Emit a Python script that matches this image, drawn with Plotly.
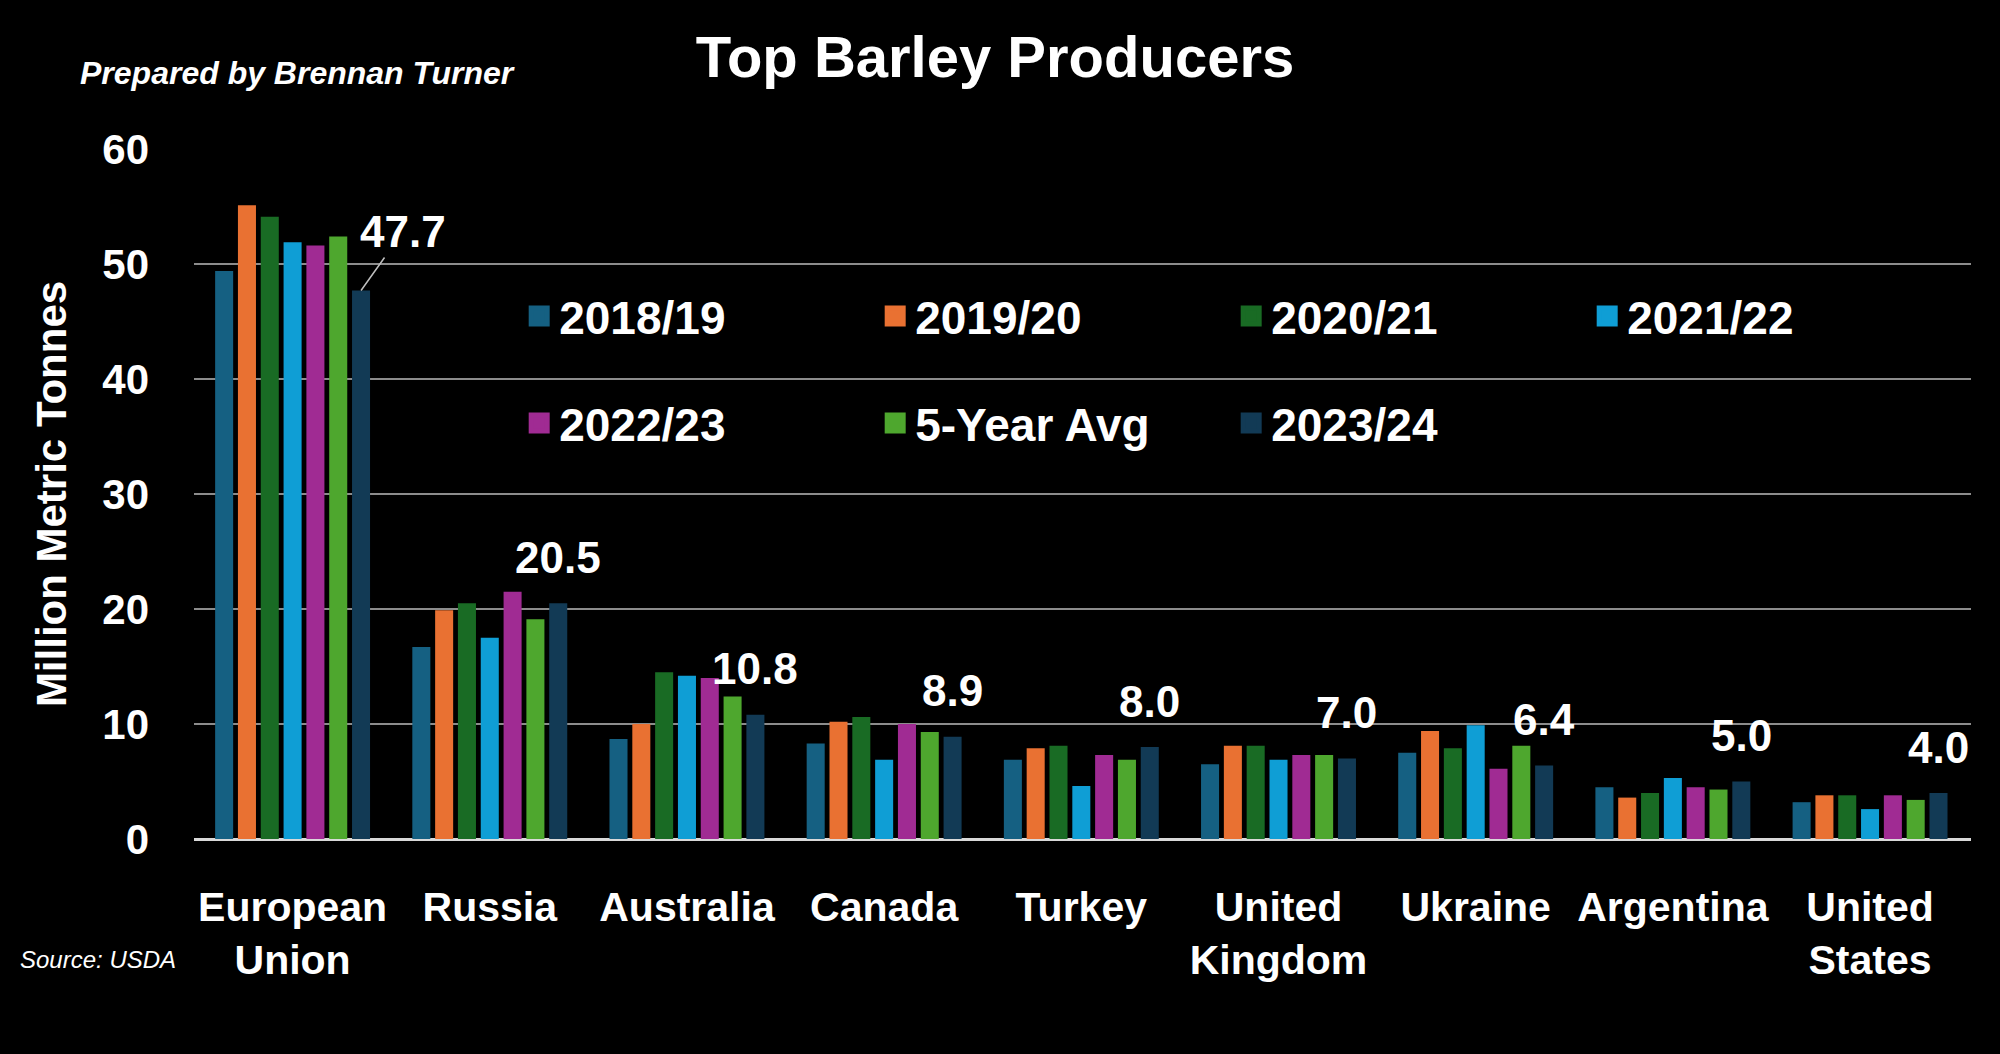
import plotly.graph_objects as go

# ---------------- data ----------------
categories = ["European Union", "Russia", "Australia", "Canada", "Turkey",
              "United Kingdom", "Ukraine", "Argentina", "United States"]
tick_labels = ["European<br>Union", "Russia", "Australia", "Canada", "Turkey",
               "United<br>Kingdom", "Ukraine", "Argentina", "United<br>States"]
series_names = ["2018/19", "2019/20", "2020/21", "2021/22", "2022/23", "5-Year Avg", "2023/24"]

v_2018_19 = [49.4, 16.7, 8.7, 8.3, 6.9, 6.5, 7.5, 4.5, 3.2]
v_2019_20 = [55.1, 19.9, 10.0, 10.2, 7.9, 8.1, 9.4, 3.6, 3.8]
v_2020_21 = [54.1, 20.5, 14.5, 10.6, 8.1, 8.1, 7.9, 4.0, 3.8]
v_2021_22 = [51.9, 17.5, 14.2, 6.9, 4.6, 6.9, 9.9, 5.3, 2.6]
v_2022_23 = [51.6, 21.5, 14.0, 10.0, 7.3, 7.3, 6.1, 4.5, 3.8]
v_5yr_avg = [52.4, 19.1, 12.4, 9.3, 6.9, 7.3, 8.1, 4.3, 3.4]
v_2023_24 = [47.7, 20.5, 10.8, 8.9, 8.0, 7.0, 6.4, 5.0, 4.0]

y_ticks = [0, 10, 20, 30, 40, 50, 60]

# ---------------- style ----------------
colors = ["#156082", "#E97132", "#196B24", "#0F9ED5", "#A02B93", "#4EA72E", "#123A55"]
FONT = "Liberation Sans, Arial, sans-serif"
BARGAP = 0.19
BARGROUPGAP = 0.21

series_values = [v_2018_19, v_2019_20, v_2020_21, v_2021_22, v_2022_23, v_5yr_avg, v_2023_24]

fig = go.Figure()
for name, vals, col in zip(series_names, series_values, colors):
    fig.add_trace(go.Bar(x=categories, y=vals, name=name, marker=dict(color=col, line=dict(width=0)),
                         showlegend=False, legendgroup=name))

# legend proxies (bigger square symbols), split in two rows
for i, (name, col) in enumerate(zip(series_names, colors)):
    fig.add_trace(go.Scatter(x=[None], y=[None], mode="markers", name=name, legendgroup=name,
                             marker=dict(symbol="square", size=16, color=col, line=dict(color=col, width=5)),
                             legend="legend" if i < 4 else "legend2", hoverinfo="skip"))

# data labels for 2023/24 series
n_series = len(series_names)
slot = (1 - BARGAP) / n_series
last_offset = (n_series - 1 - (n_series - 1) / 2) * slot
annotations = []
for i, v in enumerate(v_2023_24):
    if i == 0:
        annotations.append(dict(x=i + last_offset, y=v, xref="x", yref="y", text=f"{v:.1f}",
                                showarrow=True, arrowhead=0, arrowwidth=1.5, arrowcolor="#bfbfbf",
                                ax=42, ay=-59, standoff=0,
                                font=dict(family=FONT, size=44, color="white", weight="bold")))
    else:
        annotations.append(dict(x=i + last_offset, y=v, xref="x", yref="y", text=f"{v:.1f}",
                                showarrow=False, yanchor="middle", yshift=46,
                                font=dict(family=FONT, size=44, color="white", weight="bold")))

annotations.append(dict(x=0.058, y=1.110, xref="paper", yref="paper", text="Prepared by Brennan Turner",
                        showarrow=False, xanchor="center", yanchor="middle",
                        font=dict(family=FONT, size=32, color="white", weight="bold", style="italic")))
annotations.append(dict(x=-0.0543, y=-0.174, xref="paper", yref="paper", text="Source: USDA",
                        showarrow=False, xanchor="center", yanchor="middle",
                        font=dict(family=FONT, size=24, color="white", style="italic")))

legend_common = dict(orientation="h", xanchor="left", yanchor="middle", entrywidth=311,
                     entrywidthmode="pixels", bgcolor="rgba(0,0,0,0)", borderwidth=0,
                     font=dict(family=FONT, size=46, color="white", weight="bold"))

fig.update_layout(
    width=2000, height=1054,
    paper_bgcolor="black", plot_bgcolor="black",
    margin=dict(l=194, r=29, t=149, b=215),
    barmode="group", bargap=BARGAP, bargroupgap=BARGROUPGAP,
    title=dict(text="Top Barley Producers", x=0.4975, xref="container", xanchor="center",
               y=1 - 57 / 1054, yref="container", yanchor="middle",
               font=dict(family=FONT, size=58, color="white", weight="bold")),
    xaxis=dict(tickmode="array", tickvals=categories, ticktext=tick_labels, showgrid=False,
               showline=False, ticks="", ticklabelstandoff=40,
               tickfont=dict(family=FONT, size=41, color="white", weight="bold")),
    yaxis=dict(range=[0, 60], tickmode="array", tickvals=y_ticks, showgrid=True,
               gridcolor="#8c8c8c", gridwidth=2, zeroline=True, zerolinecolor="#d9d9d9",
               zerolinewidth=3, showline=False, ticks="", ticklabelstandoff=44,
               tickfont=dict(family=FONT, size=42, color="white", weight="bold"),
               title=dict(text="Million Metric Tonnes", standoff=22,
                          font=dict(family=FONT, size=42, color="white", weight="bold"))),
    legend=dict(x=0.183, y=(839 - 316) / 690, **legend_common),
    legend2=dict(x=0.183, y=(839 - 423) / 690, **legend_common),
    annotations=annotations,
    showlegend=True,
)

fig.write_html("out.html")
